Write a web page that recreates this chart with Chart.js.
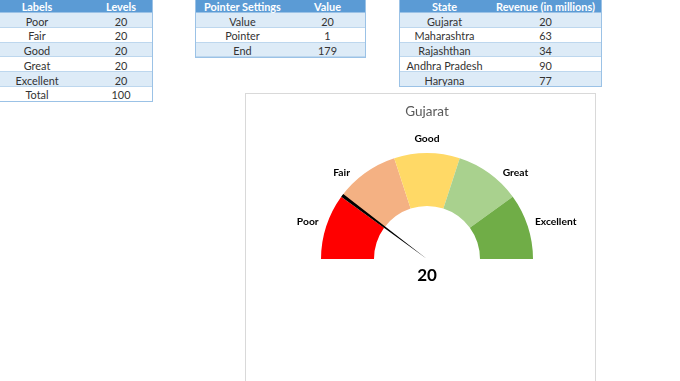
<!DOCTYPE html>
<html>
<head>
<meta charset="utf-8">
<script src="https://cdn.jsdelivr.net/npm/chart.js@4/dist/chart.umd.min.js"></script>
<style>
  html, body { margin: 0; padding: 0; background: #fff; }
  body { width: 680px; height: 381px; position: relative; overflow: hidden; font-family: Lato, "Open Sans", sans-serif; }
  .cell { position: absolute; box-sizing: border-box; display: flex; align-items: center; justify-content: center;
          font-size: 10.9px; color: #333; white-space: nowrap; border-bottom: 1px solid #BDD7EE; padding-top: 2px; }
  .hdr { background: #5B9BD5; color: #fff; font-weight: bold; border-bottom: 1px solid #9BC2E6; padding-top: 1px; }
  .band { background: #DDEBF7; }
  .tbl { position: absolute; border: 1px solid #9BC2E6; box-sizing: border-box; pointer-events: none; }
  #frame { position: absolute; left: 245px; top: 93px; width: 351px; height: 300px; border: 1px solid #D9D9D9; box-sizing: border-box; background: #fff; }
  canvas.ov { position: absolute; left: 245px; top: 93px; }
</style>
</head>
<body>
<div id="frame"></div>
<canvas id="gauge" class="ov" width="350" height="288" style="width:350px;height:288px"></canvas>
<canvas id="needle" class="ov" width="350" height="288" style="width:350px;height:288px"></canvas>
<script>
// ---- data ----
const levelLabels = ["Poor", "Fair", "Good", "Great", "Excellent"];
const levelValues = [20, 20, 20, 20, 20];
const levelTotal = 100;

const pointerLabels = ["Value", "Pointer", "End"];
const pointerValues = [20, 1, 179];

const states = ["Gujarat", "Maharashtra", "Rajashthan", "Andhra Pradesh", "Haryana"];
const revenues = [20, 63, 34, 90, 77];

const gaugeColors = ["#FF0000", "#F4B183", "#FFD966", "#A9D18E", "#70AD47"];

// ---- tables ----
const ROW_H = 14.7, TOP0 = -1.3;
function buildTable(left, widths, header, rows) {
  const totalW = widths.reduce((a, b) => a + b, 0);
  const all = [header].concat(rows);
  all.forEach((r, ri) => {
    let x = left;
    r.forEach((txt, ci) => {
      const d = document.createElement('div');
      d.className = 'cell' + (ri === 0 ? ' hdr' : (ri % 2 === 1 ? ' band' : ''));
      d.style.left = x + 'px';
      d.style.top = (TOP0 + ri * ROW_H) + 'px';
      d.style.width = widths[ci] + 'px';
      d.style.height = ROW_H + 'px';
      d.textContent = txt;
      document.body.appendChild(d);
      x += widths[ci];
    });
  });
  const b = document.createElement('div');
  b.className = 'tbl';
  b.style.left = left + 'px';
  b.style.top = TOP0 + 'px';
  b.style.width = (totalW + 1) + 'px';
  b.style.height = (all.length * ROW_H + 0.5) + 'px';
  document.body.appendChild(b);
}
buildTable(-16, [106, 62], ["Labels", "Levels"],
  levelLabels.map((l, i) => [l, String(levelValues[i])]).concat([["Total", String(levelTotal)]]));
buildTable(195, [95, 75], ["Pointer Settings", "Value"],
  pointerLabels.map((l, i) => [l, String(pointerValues[i])]));
buildTable(399, [91, 111], ["State", "Revenue (in millions)"],
  states.map((s, i) => [s, String(revenues[i])]));

// ---- gauge ----
const labelAngleNudge = [0, -8, 0, 8, 0]; // degrees, label placement only
const gaugeLabelsPlugin = {
  id: 'gaugeLabels',
  afterDraw(chart) {
    const ctx = chart.ctx;
    const meta = chart.getDatasetMeta(0);
    ctx.save();
    ctx.font = 'bold 10.3px Lato, "Open Sans", sans-serif';
    ctx.fillStyle = '#000';
    ctx.textBaseline = 'middle';
    ctx.textAlign = 'center';
    meta.data.forEach((arc, i) => {
      const p = arc.getProps(['x', 'y', 'startAngle', 'endAngle', 'outerRadius'], true);
      const mid = (p.startAngle + p.endAngle) / 2 + labelAngleNudge[i] * Math.PI / 180;
      const c = Math.cos(mid), s = Math.sin(mid);
      const r = p.outerRadius + 8.5;
      const ax = p.x + c * r, ay = p.y + s * r;
      const txt = chart.data.labels[i];
      const w = ctx.measureText(txt).width;
      ctx.fillText(txt, ax + c * w / 2, ay + s * 5.5);
    });
    const a0 = meta.data[0].getProps(['x', 'y'], true);
    ctx.font = 'bold 17px Lato, "Open Sans", sans-serif';
    ctx.fillText(String(pointerValues[0]), a0.x, a0.y + 17);
    ctx.restore();
  }
};

new Chart(document.getElementById('gauge'), {
  type: 'doughnut',
  data: {
    labels: levelLabels,
    datasets: [{ data: levelValues, backgroundColor: gaugeColors, borderWidth: 0 }]
  },
  options: {
    responsive: false,
    animation: false,
    circumference: 180,
    rotation: -90,
    cutout: '50%',
    layout: { padding: { left: 76, right: 62, top: 0, bottom: 122 } },
    plugins: {
      legend: { display: false },
      tooltip: { enabled: false },
      title: {
        display: true,
        text: states[0],
        color: '#595959',
        font: { family: 'Lato, "Open Sans", sans-serif', size: 13.5, weight: 'normal' },
        padding: { top: 10.5, bottom: 33.3 }
      }
    }
  },
  plugins: [gaugeLabelsPlugin]
});

new Chart(document.getElementById('needle'), {
  type: 'pie',
  data: {
    labels: pointerLabels,
    datasets: [{
      data: pointerValues,
      backgroundColor: ['rgba(0,0,0,0)', '#000000', 'rgba(0,0,0,0)'],
      borderWidth: 0
    }]
  },
  options: {
    responsive: false,
    animation: false,
    rotation: -90,
    layout: { padding: { left: 76, right: 62, top: 60, bottom: 16 } },
    plugins: { legend: { display: false }, tooltip: { enabled: false }, title: { display: false } }
  }
});
</script>
</body>
</html>
